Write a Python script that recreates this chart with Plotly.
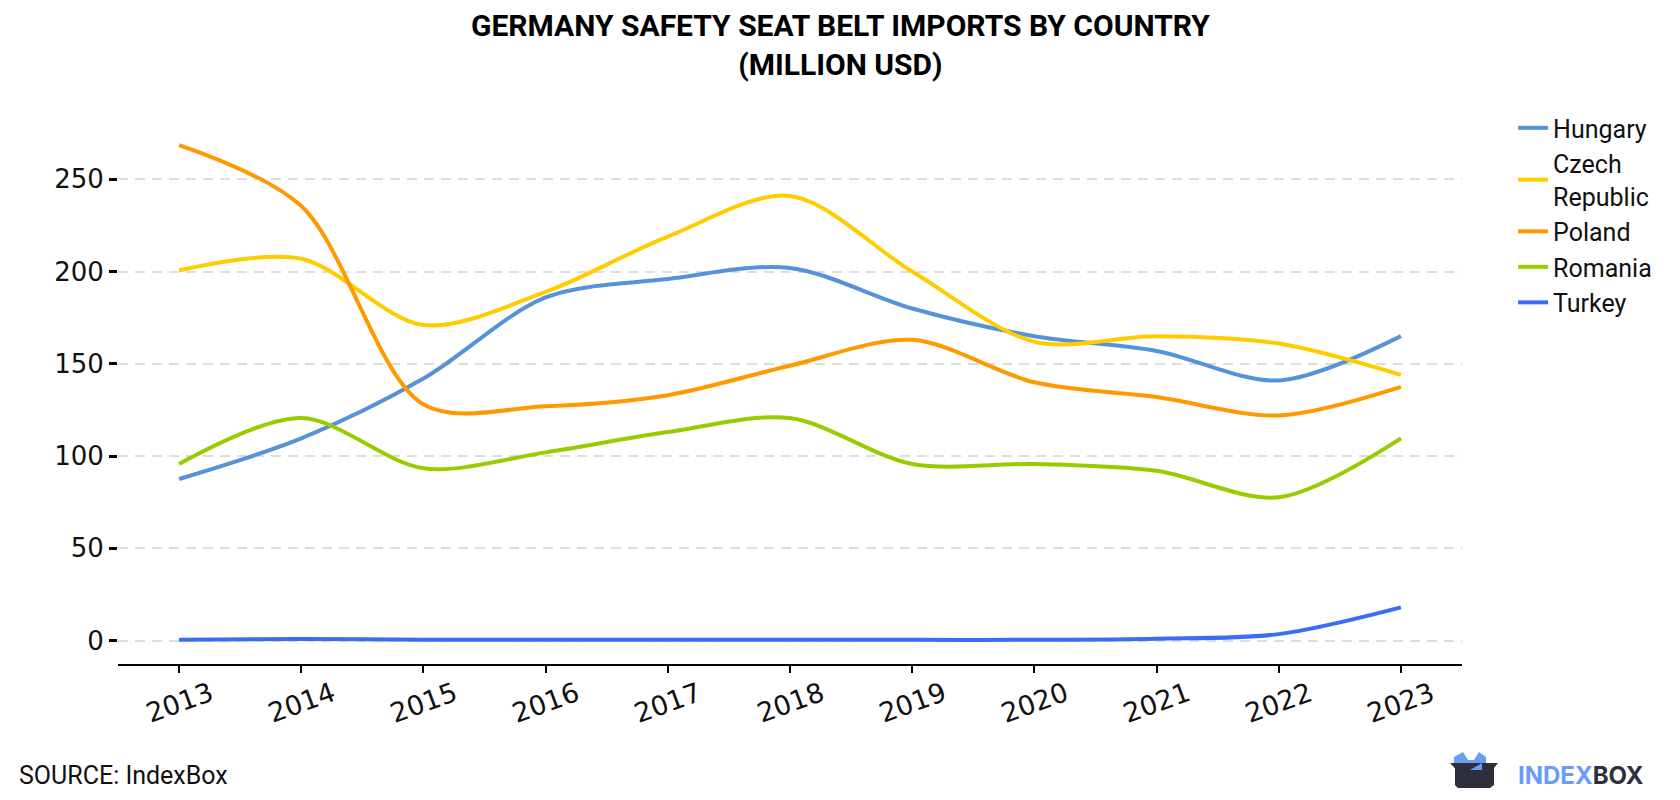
import plotly.graph_objects as go

years = [2013, 2014, 2015, 2016, 2017, 2018, 2019, 2020, 2021, 2022, 2023]
hungary = [87.6, 109.6, 142, 186, 196, 202, 180, 165, 157, 141, 165]
czech = [200.7, 207, 171, 189, 219, 241, 200, 162, 165, 161, 144]
poland = [268.6, 235.5, 128, 127, 133, 149, 163, 140, 132, 122, 137.5]
romania = [95.7, 120.6, 93.4, 102, 113, 120.6, 95.7, 95.7, 92, 77.7, 109.6]
turkey = [0.5, 0.8, 0.5, 0.4, 0.4, 0.4, 0.4, 0.4, 1.0, 3.5, 18]

series = [
    ("Hungary", hungary, "#5592d8"),
    ("Czech<br>Republic", czech, "#ffcc00"),
    ("Poland", poland, "#ff9900"),
    ("Romania", romania, "#99cc00"),
    ("Turkey", turkey, "#3a6cf7"),
]
y_ticks = [0, 50, 100, 150, 200, 250]

fig = go.Figure()
for i, (name, vals, col) in enumerate(series):
    fig.add_trace(go.Scatter(
        x=years, y=vals, name=name, mode="lines",
        line=dict(color=col, width=4, shape="spline", smoothing=0.9),
        legendgroup=f"g{i}",
    ))

fig.update_layout(
    width=1680, height=800,
    margin=dict(l=118, r=218, t=124, b=136),
    paper_bgcolor="white", plot_bgcolor="white",
    legend=dict(
        x=1.038, xanchor="left", y=1.035, yanchor="top",
        font=dict(family="Roboto", size=25, color="#111111"),
        tracegroupgap=0, itemwidth=30,
    ),
    showlegend=True,
)
fig.update_xaxes(
    range=[2012.5, 2023.5], tickmode="array", tickvals=years,
    showticklabels=False,
    showline=True, linecolor="#000000", linewidth=2,
    ticks="outside", ticklen=7, tickwidth=2, tickcolor="#000000",
    showgrid=False, zeroline=False,
)
fig.update_yaxes(
    range=[-12.7, 280], tickmode="array", tickvals=y_ticks,
    showline=False, ticks="outside", ticklen=8, tickwidth=3, tickcolor="#000000",
    showgrid=True, gridcolor="#dddddd", gridwidth=2, griddash="10px,7px",
    zeroline=False,
    tickfont=dict(family="DejaVu Sans", size=26, color="#111111"),
)

px = lambda X: (X - 118) / 1344
py = lambda Y: (664 - Y) / 540

# x tick labels, centred under ticks and rotated
for yr in years:
    fig.add_annotation(
        text=str(yr), xref="x", yref="paper", x=yr, xanchor="center",
        y=py(702), yanchor="middle", textangle=-20, showarrow=False,
        font=dict(family="DejaVu Sans", size=27, color="#111111"),
    )

fig.add_annotation(
    text="<b>GERMANY SAFETY SEAT BELT IMPORTS BY COUNTRY<br>(MILLION USD)</b>",
    xref="paper", yref="paper", x=px(840), xanchor="center",
    y=py(45), yanchor="middle", showarrow=False,
    font=dict(family="Roboto", size=30, color="#000000"),
)
fig.add_annotation(
    text="SOURCE: IndexBox", xref="paper", yref="paper",
    x=px(17), xanchor="left", y=py(775), yanchor="middle",
    showarrow=False, font=dict(family="Roboto", size=25, color="#111111"),
)
# logo
fig.add_shape(type="path", xref="paper", yref="paper",
              path=f"M {px(1454)} {py(757)} L {px(1463)} {py(752)} L {px(1468)} {py(760)} L {px(1474)} {py(760)} L {px(1479)} {py(752)} L {px(1486)} {py(757)} L {px(1486)} {py(768)} L {px(1454)} {py(768)} Z",
              fillcolor="#6b9cf5", line=dict(width=0))
fig.add_shape(type="path", xref="paper", yref="paper",
              path=f"M {px(1450)} {py(763)} L {px(1498)} {py(763)} L {px(1494)} {py(768)} L {px(1494)} {py(785)} L {px(1490)} {py(788)} L {px(1458)} {py(788)} L {px(1455)} {py(785)} L {px(1455)} {py(768)} Z",
              fillcolor="#2d2f3a", line=dict(width=0))
fig.add_shape(type="path", xref="paper", yref="paper",
              path=f"M {px(1470)} {py(770)} L {px(1482)} {py(763)} L {px(1482)} {py(770)} Z",
              fillcolor="#6b9cf5", line=dict(width=0))
fig.add_annotation(
    text="<b><span style='color:#6b9cf5'>INDEX</span><span style='color:#2d2f3a'>BOX</span></b>",
    xref="paper", yref="paper", x=px(1516), xanchor="left", y=py(775), yanchor="middle",
    showarrow=False, font=dict(family="Inter", size=24),
)

fig.write_html("out.html")
